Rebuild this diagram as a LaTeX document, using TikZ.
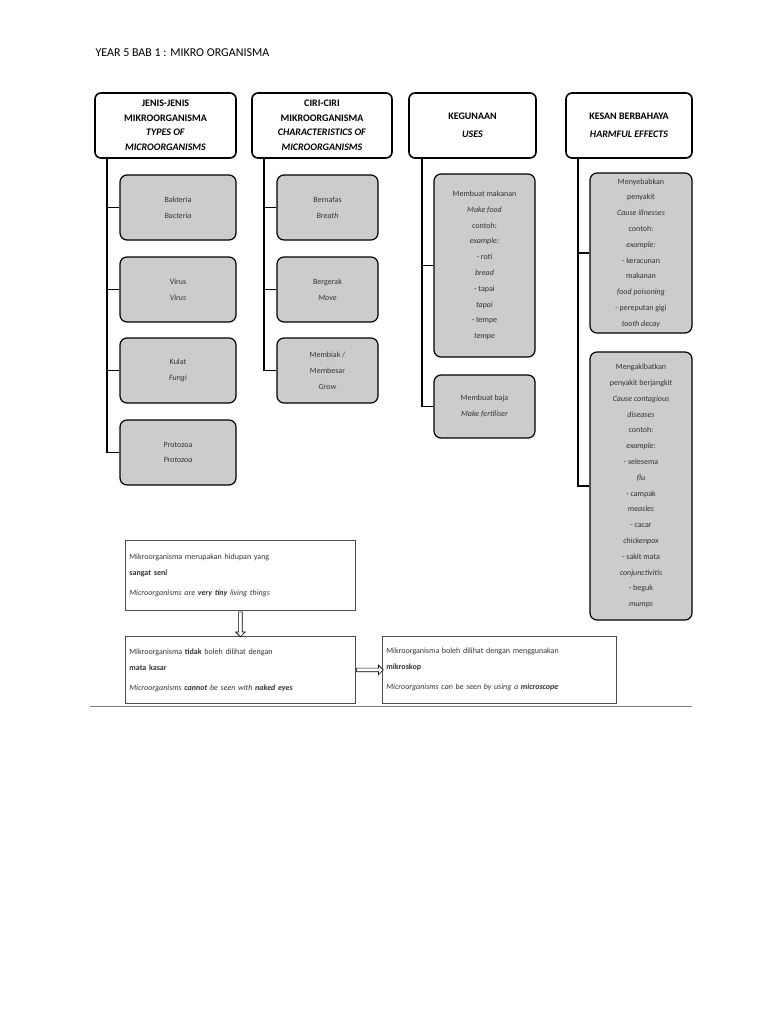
\documentclass[tikz,border=0pt]{standalone}
\usepackage{fontspec}
\setmainfont{Carlito}
\usetikzlibrary{positioning,shapes.arrows,calc}

\begin{document}
\begin{tikzpicture}[x=1pt,y=-1pt,
    head/.style={draw, line width=1.6pt, rounded corners=6pt, fill=white, align=center,
        minimum height=65pt, inner sep=2pt, font=\fontsize{10}{14.5}\selectfont\bfseries},
    item/.style={draw, line width=1.2pt, rounded corners=7pt, fill=black!20, align=center,
        text=black!80, inner sep=2pt, font=\fontsize{8}{15.8}\selectfont},
    note/.style={draw=black!70, line width=0.8pt, align=left, text=black!80,
        font=\fontsize{8}{16}\selectfont, inner sep=4pt},
    trunk/.style={line width=1.6pt},
    hollow/.style={draw, single arrow, fill=white, line width=0.6pt, minimum height=22pt,
        single arrow head extend=3pt, inner sep=1.5pt}]
    \useasboundingbox (0,0) rectangle (768,1024);
    \node[anchor=west, font=\fontsize{12}{14}\selectfont] (title) at (92,53) {YEAR 5 BAB 1 : MIKRO ORGANISMA};
    % headers
    \node[head, minimum width=141pt] (h1) at (165.5,125.5) {JENIS-JENIS\\MIKROORGANISMA\\\textit{TYPES OF}\\\textit{MICROORGANISMS}};
    \node[head, minimum width=140pt] (h2) at (322,125.5) {CIRI-CIRI\\MIKROORGANISMA\\\textit{CHARACTERISTICS OF}\\\textit{MICROORGANISMS}};
    \node[head, minimum width=127pt] (h3) at (472.5,125.5) {KEGUNAAN\\[4pt]\textit{USES}};
    \node[head, minimum width=126pt] (h4) at (629,125.5) {KESAN BERBAHAYA\\[4pt]\textit{HARMFUL EFFECTS}};
    \coordinate (t1) at (107,158);
    \coordinate (t2) at (264,158);
    \coordinate (t3) at (422,158);
    \coordinate (t4) at (578,158);
    % types
    \node[item, minimum width=116pt, minimum height=65pt] (bak) at (178,207.5) {Bakteria\\\textit{Bacteria}};
    \node[item, minimum width=116pt, minimum height=65pt] (vir) at (178,289.5) {Virus\\\textit{Virus}};
    \node[item, minimum width=116pt, minimum height=65pt] (kul) at (178,370.5) {Kulat\\\textit{Fungi}};
    \node[item, minimum width=116pt, minimum height=65pt] (pro) at (178,452.5) {Protozoa\\\textit{Protozoa}};
    % characteristics
    \node[item, minimum width=101pt, minimum height=65pt] (ber) at (327.5,207.5) {Bernafas\\\textit{Breath}};
    \node[item, minimum width=101pt, minimum height=65pt] (grk) at (327.5,289.5) {Bergerak\\\textit{Move}};
    \node[item, minimum width=101pt, minimum height=65pt] (bia) at (327.5,370.5) {Membiak /\\Membesar\\\textit{Grow}};
    % uses
    \node[item, minimum width=101pt, minimum height=183pt] (mkn) at (484.5,265.5) {Membuat makanan\\\textit{Make food}\\contoh:\\\textit{example:}\\- roti\\\textit{bread}\\- tapai\\\textit{tapai}\\- tempe\\\textit{tempe}};
    \node[item, minimum width=101pt, minimum height=63pt] (baj) at (484.5,406.5) {Membuat baja\\\textit{Make fertiliser}};
    % harmful effects
    \node[item, minimum width=102pt, minimum height=160pt] (sak) at (641,253) {Menyebabkan\\penyakit\\\textit{Cause illnesses}\\contoh:\\\textit{example:}\\- keracunan\\makanan\\\textit{food poisoning}\\- pereputan gigi\\\textit{tooth decay}};
    \node[item, minimum width=102pt, minimum height=268pt] (jgk) at (641,486) {Mengakibatkan\\penyakit berjangkit\\\textit{Cause contagious}\\\textit{diseases}\\contoh:\\\textit{example:}\\- selesema\\\textit{flu}\\- campak\\\textit{measles}\\- cacar\\\textit{chickenpox}\\- sakit mata\\\textit{conjunctivitis}\\- beguk\\\textit{mumps}};
    % branches
    \draw[trunk] (t1) |- (pro.west);
    \foreach \n in {bak,vir,kul} \draw[trunk] (\n.west) -- (\n.west -| t1);
    \draw[trunk] (t2) |- (bia.west);
    \foreach \n in {ber,grk} \draw[trunk] (\n.west) -- (\n.west -| t2);
    \draw[trunk] (t3) |- (baj.west);
    \draw[trunk] (mkn.west) -- (mkn.west -| t3);
    \draw[trunk] (t4) |- (jgk.west);
    \draw[trunk] (sak.west) -- (sak.west -| t4);
    % notes
    \node[note, text width=222pt, minimum height=70pt, anchor=north west] (tiny) at (125,540)
        {Mikroorganisma merupakan hidupan yang\\\textbf{sangat seni}\\[4pt]\textit{Microorganisms are \textbf{very tiny} living things}};
    \node[note, text width=222pt, minimum height=67pt, anchor=north west] (eye) at (125,636)
        {Mikroorganisma \textbf{tidak} boleh dilihat dengan\\\textbf{mata kasar}\\[4pt]\textit{Microorganisms \textbf{cannot} be seen with \textbf{naked eyes}}};
    \node[note, text width=226pt, minimum height=67pt, anchor=north west] (mik) at (382,636)
        {Mikroorganisma boleh dilihat dengan menggunakan\\\textbf{mikroskop}\\[4pt]\textit{Microorganisms can be seen by using a \textbf{microscope}}};
    \node[hollow, rotate=-90, minimum height=25pt] (a1) at ($(tiny.south)!0.5!(tiny.south |- eye.north)$) {};
    \node[hollow, minimum height=27pt] (a2) at ($(eye.east)!0.5!(mik.west)$) {};
    \draw[black!50, line width=0.8pt] (90,706) -- (692,706);
\end{tikzpicture}
\end{document}
